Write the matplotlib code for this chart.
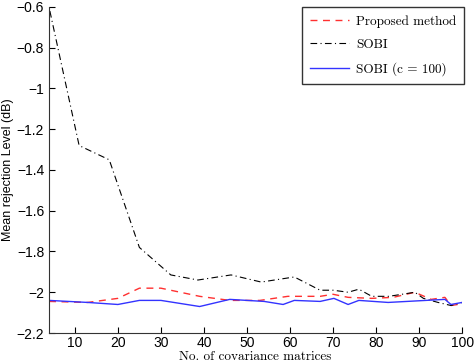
import matplotlib
matplotlib.use("Agg")
import matplotlib.pyplot as plt

# Proposed method (red dashed)
prop_x = [4, 13, 20, 25, 30, 39, 46, 53, 59.5, 67, 70, 73.5, 79, 84, 89, 92.8, 96, 97.4, 99, 100]
prop_y = [-2.045, -2.05, -2.03, -1.98, -1.98, -2.02, -2.04, -2.04, -2.02, -2.02, -2.01, -2.025, -2.03, -2.025, -2.0, -2.035, -2.025, -2.065, -2.06, -2.055]

# SOBI (black dash-dot)
sobi_x = [4.2, 11, 18, 25, 32.3, 38.6, 46.3, 53.3, 61, 67, 70, 73.5, 76, 79, 83, 89, 91, 94.4, 97.4, 100]
sobi_y = [-0.62, -1.28, -1.35, -1.78, -1.915, -1.94, -1.915, -1.95, -1.925, -1.99, -1.99, -2.0, -1.985, -2.02, -2.02, -2.0, -2.03, -2.05, -2.065, -2.05]

# SOBI (c = 100) (blue solid)
c100_x = [4, 13, 20, 25, 30, 39, 46, 54, 58.4, 61, 67, 70.2, 73.5, 76, 82.8, 96, 97.4, 100]
c100_y = [-2.04, -2.05, -2.06, -2.04, -2.04, -2.07, -2.035, -2.045, -2.06, -2.04, -2.045, -2.03, -2.06, -2.04, -2.05, -2.035, -2.06, -2.05]

xticks = [10, 20, 30, 40, 50, 60, 70, 80, 90, 100]
yticks = [-2.2, -2.0, -1.8, -1.6, -1.4, -1.2, -1.0, -0.8, -0.6]
ytick_labels = ["\u22122.2", "\u22122", "\u22121.8", "\u22121.6", "\u22121.4", "\u22121.2", "\u22121", "\u22120.8", "\u22120.6"]

fig = plt.figure(figsize=(4.74, 3.62), dpi=100)
ax = fig.add_axes([0.1034, 0.0801, 0.8716, 0.9006])

ax.plot(prop_x, prop_y, color="#ff3030", linestyle=(0, (5, 4)), linewidth=1.0, label="Proposed method")
ax.plot(sobi_x, sobi_y, color="black", linestyle=(0, (6, 3, 1, 3)), linewidth=0.8, label="SOBI")
ax.plot(c100_x, c100_y, color="#3333ff", linestyle="-", linewidth=1.0, label="SOBI (c = 100)")

ax.set_xlim(4, 100)
ax.set_ylim(-2.2, -0.6)
ax.set_xticks(xticks)
ax.set_yticks(yticks)
ax.set_yticklabels(ytick_labels)
ax.tick_params(direction="in", length=4, labelsize=10, width=0.8)
ax.tick_params(axis="x", pad=2.5)
for lab in ax.get_xticklabels() + ax.get_yticklabels():
    lab.set_fontfamily("Liberation Sans")
ax.spines["top"].set_visible(False)
ax.spines["right"].set_visible(False)
ax.spines["left"].set_color("#333333")
ax.spines["bottom"].set_color("#333333")

ax.set_ylabel("Mean rejection Level (dB)", fontsize=9, fontfamily="Liberation Sans", labelpad=2)
ax.set_xlabel("No. of covariance matrices", fontsize=9.5, fontfamily="cmr10", labelpad=0)

leg = ax.legend(loc="upper right", bbox_to_anchor=(1.005, 1.0), prop={"family": "cmr10", "size": 9.5},
                frameon=True, fancybox=False, edgecolor="black", handlelength=3.0,
                borderpad=0.6, labelspacing=0.85, handletextpad=0.5, borderaxespad=0)
leg.get_frame().set_linewidth(1.0)

fig.savefig("out.png", dpi=100)
